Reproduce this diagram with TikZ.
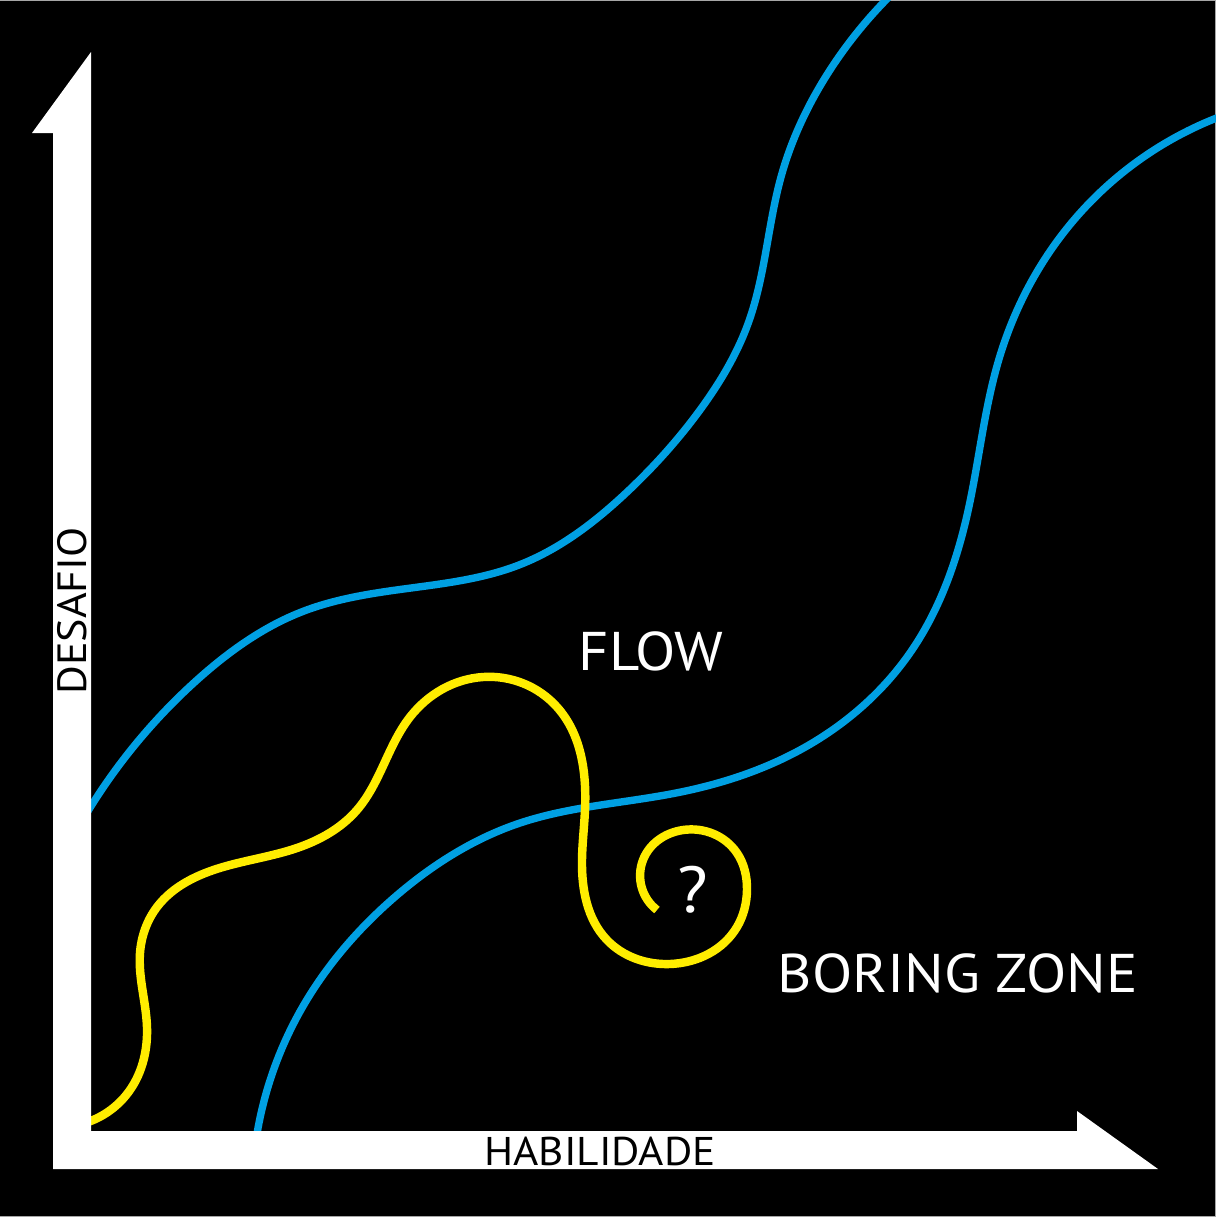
\documentclass[tikz,border=0pt]{standalone}
\usepackage{fontspec}
\setmainfont{PT Sans}[FakeStretch=1.08]
\usetikzlibrary{hobby}
\definecolor{flowblue}{RGB}{0,160,227}
\definecolor{flowyellow}{RGB}{255,237,0}
\begin{document}
\begin{tikzpicture}[x=0.01cm,y=-0.01cm,use Hobby shortcut,
blueline/.style={flowblue, line width=2.1pt},
yellowline/.style={flowyellow, line width=2.4pt},
lbl/.style={text=white, inner sep=0pt, font=\fontsize{15.5}{18}\selectfont}]
\fill[black] (0,0) rectangle (1216,1217);
\useasboundingbox (0,0) rectangle (1216,1217);
\draw[gray!70, line width=0.4pt] (0,0.5) -- (1216,0.5) (1215.5,0) -- (1215.5,1217) (0,1216.5) -- (1216,1216.5);
% zone borders
\draw[blueline] (85,816) .. (197,680) .. (304,611) .. (411,588) .. (519,565) .. (626,493) .. (700,410) .. (749,321) .. (781,177) .. (830,70) .. (896,-10);
\draw[blueline] (256,1140) .. (302,1008) .. (396,896) .. (520,823) .. (676,793) .. (800,750) .. (912,650) .. (968,511) .. (999,359) .. (1080,213) .. (1230,113);
% path
\draw[yellowline] (85,1123) .. (130,1090) .. (147,1027) .. (140,953) .. (157,907) .. (223,867) .. (297,848) .. (357,810) .. (410,717) .. (483,677) .. (557,707) .. (585,810) .. (582,860) .. (607,940) .. (670,964) .. (737,927) .. (747,890) .. (737,853) .. (683,830) .. (643,860) .. (657,910);
% axes
\fill[white] (53,1169) -- (53,133) -- (32,133) -- (91,52) -- (91,1131) -- (1077,1131) -- (1077,1111) -- (1158,1169) -- cycle;
\node[lbl] (flow) at (651,651) {FLOW};
\node[lbl] (boring) at (958,973) {BORING ZONE};
\node[lbl, font=\fontsize{18.5}{22}\selectfont] (ask) at (693,890) {?};
\node[lbl, text=black, font=\fontsize{11.4}{14}\selectfont] (hab) at (600,1151) {HABILIDADE};
\node[lbl, text=black, rotate=90, font=\fontsize{11.6}{14}\selectfont] (des) at (72,611) {DESAFIO};
\end{tikzpicture}
\end{document}
